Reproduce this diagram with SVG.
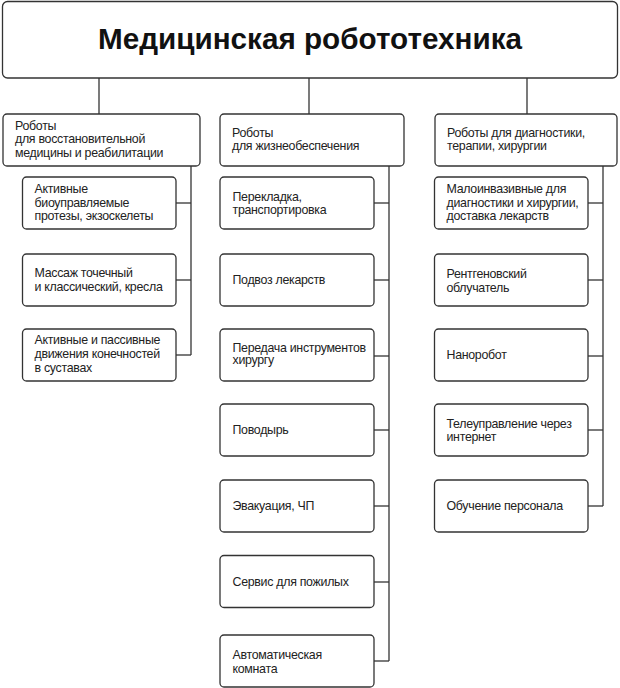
<svg xmlns="http://www.w3.org/2000/svg" width="620" height="688" viewBox="0 0 620 688">
<style>
rect{fill:#fff;stroke:#333;stroke-width:1.3}
.c line,.c path{stroke:#333;stroke-width:1.3;fill:none}
text{font-family:"Liberation Sans",Arial,sans-serif;font-size:12.4px;letter-spacing:-0.3px;fill:#222}
.t{font-size:29px;font-weight:bold;fill:#111;letter-spacing:0}
</style>
<rect width="620" height="688" style="fill:#fff;stroke:none"/>
<g class="c" id="connectors">
<line x1="99" y1="78" x2="99" y2="114"/>
<line x1="309" y1="78" x2="309" y2="114"/>
<line x1="527" y1="78" x2="527" y2="114"/>
<line x1="191" y1="166" x2="191" y2="355"/>
<line x1="176" y1="203" x2="191" y2="203"/>
<line x1="176" y1="280" x2="191" y2="280"/>
<line x1="176" y1="355" x2="191" y2="355"/>
<line x1="389" y1="166" x2="389" y2="661"/>
<line x1="374" y1="203" x2="389" y2="203"/>
<line x1="374" y1="280" x2="389" y2="280"/>
<line x1="374" y1="356" x2="389" y2="356"/>
<line x1="374" y1="430" x2="389" y2="430"/>
<line x1="374" y1="506" x2="389" y2="506"/>
<line x1="374" y1="582" x2="389" y2="582"/>
<line x1="374" y1="661" x2="389" y2="661"/>
<line x1="603" y1="166" x2="603" y2="506"/>
<line x1="588" y1="203" x2="603" y2="203"/>
<line x1="588" y1="280" x2="603" y2="280"/>
<line x1="588" y1="356" x2="603" y2="356"/>
<line x1="588" y1="430" x2="603" y2="430"/>
<line x1="588" y1="506" x2="603" y2="506"/>
</g>
<g id="root"><rect x="2.5" y="1.5" width="615" height="76.5" rx="5"/><text class="t" x="310" y="49" text-anchor="middle" textLength="424" lengthAdjust="spacingAndGlyphs">Медицинская робототехника</text></g>
<g id="cat1"><rect x="3" y="114" width="197" height="52" rx="4"/><text x="15" y="130">Роботы</text><text x="15" y="143.3">для восстановительной</text><text x="15" y="156.7">медицины и реабилитации</text></g>
<g id="cat2"><rect x="220" y="114" width="184" height="52" rx="4"/><text x="232" y="136.7">Роботы</text><text x="232" y="150">для жизнеобеспечения</text></g>
<g id="cat3"><rect x="435" y="114" width="182" height="52" rx="4"/><text x="447" y="136.7">Роботы для диагностики,</text><text x="447" y="150">терапии, хирургии</text></g>
<g id="l1"><rect x="22.5" y="177" width="153.5" height="52" rx="4"/><text x="34.5" y="192.7">Активные</text><text x="34.5" y="206.5">биоуправляемые</text><text x="34.5" y="220.3">протезы, экзоскелеты</text></g>
<g id="l2"><rect x="22.5" y="254" width="153.5" height="52" rx="4"/><text x="34.5" y="276.5">Массаж точечный</text><text x="34.5" y="290.5">и классический, кресла</text></g>
<g id="l3"><rect x="22.5" y="329" width="153.5" height="52" rx="4"/><text x="34.5" y="344">Активные и пассивные</text><text x="34.5" y="358">движения конечностей</text><text x="34.5" y="371.8">в суставах</text></g>
<g id="m1"><rect x="220" y="177" width="154" height="52" rx="4"/><text x="232.5" y="200.5">Перекладка,</text><text x="232.5" y="213.8">транспортировка</text></g>
<g id="m2"><rect x="220" y="254" width="154" height="52" rx="4"/><text x="232.5" y="283.5">Подвоз лекарств</text></g>
<g id="m3"><rect x="220" y="329" width="154" height="52" rx="4"/><text x="232.5" y="351.5">Передача инструментов</text><text x="232.5" y="364">хирургу</text></g>
<g id="m4"><rect x="220" y="404" width="154" height="52" rx="4"/><text x="232.5" y="434">Поводырь</text></g>
<g id="m5"><rect x="220" y="480" width="154" height="52" rx="4"/><text x="232.5" y="510">Эвакуация, ЧП</text></g>
<g id="m6"><rect x="220" y="555.5" width="154" height="52" rx="4"/><text x="232.5" y="586">Сервис для пожилых</text></g>
<g id="m7"><rect x="220" y="635" width="154" height="52" rx="4"/><text x="232.5" y="659">Автоматическая</text><text x="232.5" y="672.8">комната</text></g>
<g id="r1"><rect x="434.5" y="177" width="153.5" height="52" rx="4"/><text x="446.5" y="193.3">Малоинвазивные для</text><text x="446.5" y="206.8">диагностики и хирургии,</text><text x="446.5" y="220.3">доставка лекарств</text></g>
<g id="r2"><rect x="434.5" y="254" width="153.5" height="52" rx="4"/><text x="446.5" y="278.3">Рентгеновский</text><text x="446.5" y="291.7">облучатель</text></g>
<g id="r3"><rect x="434.5" y="329" width="153.5" height="52" rx="4"/><text x="446.5" y="358.5">Наноробот</text></g>
<g id="r4"><rect x="434.5" y="404" width="153.5" height="52" rx="4"/><text x="446.5" y="427.7">Телеуправление через</text><text x="446.5" y="440.8">интернет</text></g>
<g id="r5"><rect x="434.5" y="480" width="153.5" height="52" rx="4"/><text x="446.5" y="510">Обучение персонала</text></g>
</svg>
